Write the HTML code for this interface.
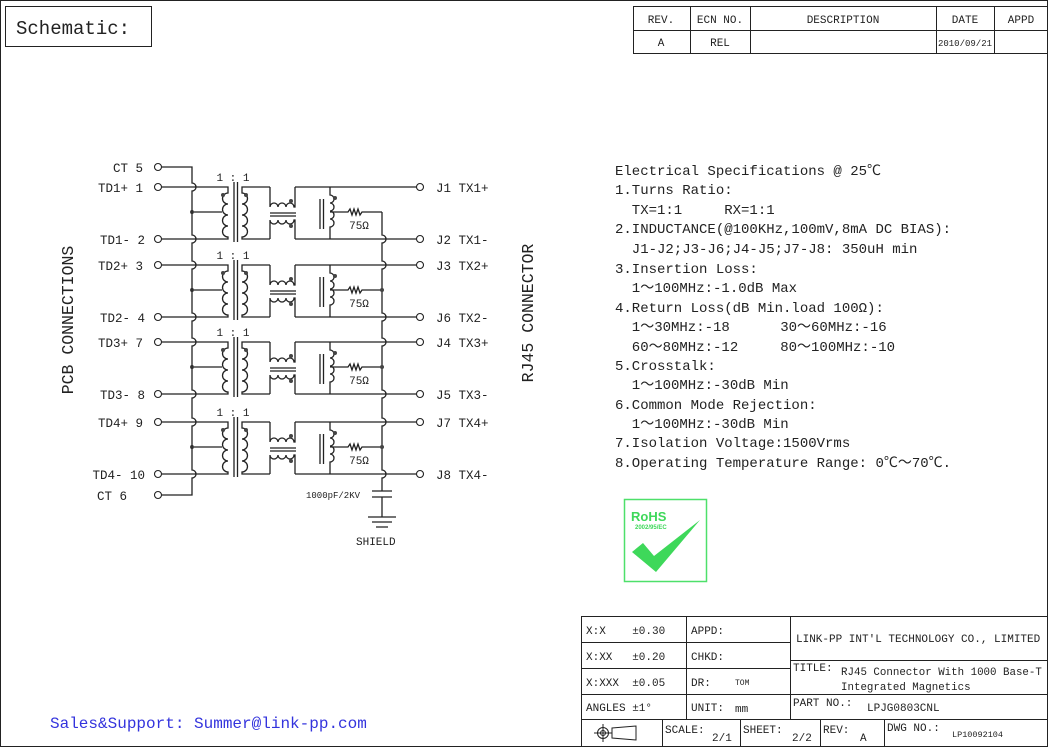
<!DOCTYPE html>
<html><head><meta charset="utf-8"><style>
html,body{margin:0;padding:0;background:#fff}
svg{display:block}
text{font-family:"Liberation Mono","Noto Sans CJK SC",monospace;fill:#222;white-space:pre}
.m{font-family:"Liberation Mono","Noto Sans CJK SC",monospace;font-size:14px;fill:#222}
</style></head><body>
<svg width="1048" height="747" viewBox="0 0 1048 747" xmlns="http://www.w3.org/2000/svg" xml:space="preserve">
<defs>
<g id="ch" fill="none" stroke="#222" stroke-width="1.3">
 <path d="M162,0 H228 V6 a5.5,5.5 0 0 0 0,11 a5.5,5.5 0 0 0 0,11 a5.5,5.5 0 0 0 0,11 a5.5,5.5 0 0 0 0,11 V52 H162"/>
 <path d="M192,25 H222"/>
 <path d="M234,-5 V55 M237.5,-5 V55"/>
 <path d="M270,0 H242 V6 a5.5,5.5 0 0 1 0,11 a5.5,5.5 0 0 1 0,11 a5.5,5.5 0 0 1 0,11 a5.5,5.5 0 0 1 0,11 V52 H270"/>
 <path d="M270,0 V20 a4,4 0 0 1 8,0 a4,4 0 0 1 8,0 a4,4 0 0 1 8,0 H295 V0"/>
 <path d="M270,52 V33 a4,4 0 0 0 8,0 a4,4 0 0 0 8,0 a4,4 0 0 0 8,0 H295 V52"/>
 <path d="M270,26 H296 M270,29 H296"/>
 <path d="M295,0 H416 M295,52 H416"/>
 <path d="M330,0 V8 a4,4 0 0 1 0,8 a4,4 0 0 1 0,8 a4,4 0 0 1 0,8 a4,4 0 0 1 0,8 V52"/>
 <path d="M330,25 H348 l2,-3 l2,6 l2,-6 l2,6 l2,-6 l2,6 l2,-3 H382"/>
 <path d="M320,12 V42 M323.5,12 V42"/>
</g>
<g id="dots" fill="#444">
 <circle cx="223" cy="8" r="2"/><circle cx="246" cy="8" r="2"/>
 <circle cx="291" cy="14" r="2"/><circle cx="291" cy="39" r="2"/>
 <circle cx="335" cy="11" r="2"/><circle cx="192" cy="25" r="2"/>
</g>
</defs>
<rect x="0.5" y="0.5" width="1047" height="746" fill="none" stroke="#222"/>
<rect x="5.5" y="6.5" width="146" height="40" fill="none" stroke="#222"/>
<text x="16" y="34" style="font-size:19px">Schematic:</text>
<g fill="none" stroke="#222" stroke-width="1">
<path d="M633.5,6.5 H1048 M633.5,30.5 H1048 M633.5,53.5 H1048 M633.5,6 V54 M690.5,6 V54 M750.5,6 V54 M936.5,6 V54 M994.5,6 V54"/>
</g>
<g style="font-size:11px" text-anchor="middle">
<text x="661" y="23">REV.</text><text x="720" y="23">ECN NO.</text><text x="843" y="23">DESCRIPTION</text><text x="965" y="23">DATE</text><text x="1021" y="23">APPD</text>
<text x="661" y="46">A</text><text x="720" y="46">REL</text><text x="965" y="46" style="font-size:9px">2010/09/21</text>
</g>

<use href="#ch" y="187"/><use href="#dots" y="187"/>
<use href="#ch" y="265"/><use href="#dots" y="265"/>
<use href="#ch" y="342"/><use href="#dots" y="342"/>
<use href="#ch" y="422"/><use href="#dots" y="422"/>
<g fill="none" stroke="#222" stroke-width="1.3">
 <path d="M162,167 H192 V183 a4,4 0 0 1 0,8 V235 a4,4 0 0 1 0,8 V261 a4,4 0 0 1 0,8 V313 a4,4 0 0 1 0,8 V338 a4,4 0 0 1 0,8 V390 a4,4 0 0 1 0,8 V418 a4,4 0 0 1 0,8 V470 a4,4 0 0 1 0,8 V495 H162"/>
 <path d="M382,212 V235 a4,4 0 0 1 0,8 V261 a4,4 0 0 1 0,8 V313 a4,4 0 0 1 0,8 V338 a4,4 0 0 1 0,8 V390 a4,4 0 0 1 0,8 V418 a4,4 0 0 1 0,8 V470 a4,4 0 0 1 0,8 V491"/>
 <path d="M372,491 H392 M372,497 H392 M382,497 V517 M368,517 H396 M372,522 H392 M376,527 H388"/>
</g>
<g fill="#444"><circle cx="382" cy="290" r="2"/><circle cx="382" cy="367" r="2"/><circle cx="382" cy="447" r="2"/></g>
<g fill="#fff" stroke="#222" stroke-width="1.1">
 <circle cx="158" cy="167" r="3.5"/><circle cx="158" cy="187" r="3.5"/><circle cx="158" cy="239" r="3.5"/><circle cx="158" cy="265" r="3.5"/><circle cx="158" cy="317" r="3.5"/><circle cx="158" cy="342" r="3.5"/><circle cx="158" cy="394" r="3.5"/><circle cx="158" cy="422" r="3.5"/><circle cx="158" cy="474" r="3.5"/><circle cx="158" cy="495" r="3.5"/>
 <circle cx="420" cy="187" r="3.5"/><circle cx="420" cy="239" r="3.5"/><circle cx="420" cy="265" r="3.5"/><circle cx="420" cy="317" r="3.5"/><circle cx="420" cy="342" r="3.5"/><circle cx="420" cy="394" r="3.5"/><circle cx="420" cy="422" r="3.5"/><circle cx="420" cy="474" r="3.5"/>
</g>
<g style="font-size:12.5px" text-anchor="end">
<text x="143" y="172">CT 5</text><text x="143" y="192">TD1+ 1</text><text x="145" y="244">TD1- 2</text><text x="143" y="270">TD2+ 3</text><text x="145" y="322">TD2- 4</text><text x="143" y="347">TD3+ 7</text><text x="145" y="399">TD3- 8</text><text x="143" y="427">TD4+ 9</text><text x="145" y="479">TD4- 10</text><text x="127" y="500">CT 6</text>
</g>
<g style="font-size:12.5px">
<text x="436" y="192">J1 TX1+</text><text x="436" y="244">J2 TX1-</text><text x="436" y="270">J3 TX2+</text><text x="436" y="322">J6 TX2-</text><text x="436" y="347">J4 TX3+</text><text x="436" y="399">J5 TX3-</text><text x="436" y="427">J7 TX4+</text><text x="436" y="479">J8 TX4-</text>
</g>
<g style="font-size:11px" text-anchor="middle">
<text x="233" y="181">1 : 1</text><text x="233" y="259">1 : 1</text><text x="233" y="336">1 : 1</text><text x="233" y="416">1 : 1</text>
<text x="359" y="229">75Ω</text><text x="359" y="307">75Ω</text><text x="359" y="384">75Ω</text><text x="359" y="464">75Ω</text>
</g>
<text x="306" y="498" style="font-size:9px">1000pF/2KV</text>
<text x="356" y="545" style="font-size:11px">SHIELD</text>
<text transform="translate(73,320) rotate(-90)" text-anchor="middle" style="font-size:16.5px">PCB CONNECTIONS</text>
<text transform="translate(533,313) rotate(-90)" text-anchor="middle" style="font-size:16.5px">RJ45 CONNECTOR</text>

<text class="m" x="615" y="175">Electrical Specifications @ 25℃</text>
<text class="m" x="615" y="194">1.Turns Ratio:</text>
<text class="m" x="615" y="214">  TX=1:1     RX=1:1</text>
<text class="m" x="615" y="233">2.INDUCTANCE(@100KHz,100mV,8mA DC BIAS):</text>
<text class="m" x="615" y="253">  J1-J2;J3-J6;J4-J5;J7-J8: 350uH min</text>
<text class="m" x="615" y="273">3.Insertion Loss:</text>
<text class="m" x="615" y="292">  1～100MHz:-1.0dB Max</text>
<text class="m" x="615" y="312">4.Return Loss(dB Min.load 100Ω):</text>
<text class="m" x="615" y="331">  1～30MHz:-18      30～60MHz:-16</text>
<text class="m" x="615" y="351">  60～80MHz:-12     80～100MHz:-10</text>
<text class="m" x="615" y="370">5.Crosstalk:</text>
<text class="m" x="615" y="389">  1～100MHz:-30dB Min</text>
<text class="m" x="615" y="409">6.Common Mode Rejection:</text>
<text class="m" x="615" y="428">  1～100MHz:-30dB Min</text>
<text class="m" x="615" y="447">7.Isolation Voltage:1500Vrms</text>
<text class="m" x="615" y="467">8.Operating Temperature Range: 0℃～70℃.</text>

<rect x="624.5" y="499.5" width="82" height="82" fill="#fff" stroke="#4ee06a" stroke-width="1.5"/>
<text x="631" y="521" style="font-family:'Liberation Sans',sans-serif;font-size:13px;font-weight:bold;fill:#3ed85a">RoHS</text>
<text x="635" y="529" style="font-family:'Liberation Sans',sans-serif;font-size:6px;font-weight:bold;fill:#3ed85a">2002/95/EC</text>
<path d="M632,552 L643,543 L654,556 L700,520 L656,572 Z" fill="#3ed85a"/>

<g fill="none" stroke="#222" stroke-width="1">
<path d="M581.5,616.5 H1048 M581.5,616 V747 M686.5,616 V719 M790.5,616 V719 M581,642.5 H790 M581,668.5 H790 M790,660.5 H1048 M581,694.5 H1048 M581,719.5 H1048 M662.5,719 V747 M740.5,719 V747 M820.5,719 V747 M884.5,719 V747"/>
<circle cx="603" cy="733" r="5.5"/><circle cx="603" cy="733" r="2.5"/><path d="M594,733 H612 M603,724 V742 M612,728 L636,726 V740 L612,738 Z"/>
</g>
<g style="font-size:11px">
<text x="586" y="634">X:X    ±0.30</text><text x="586" y="660">X:XX   ±0.20</text><text x="586" y="686">X:XXX  ±0.05</text><text x="586" y="711">ANGLES ±1°</text>
<text x="691" y="634">APPD:</text><text x="691" y="660">CHKD:</text><text x="691" y="686">DR:</text><text x="735" y="685" style="font-size:8px">TOM</text>
<text x="691" y="711">UNIT:</text><text x="735" y="712">mm</text>
<text x="796" y="642">LINK-PP INT'L TECHNOLOGY CO., LIMITED</text>
<text x="793" y="671">TITLE:</text>
<text x="841" y="675" style="font-size:10.8px">RJ45 Connector With 1000 Base-T</text>
<text x="841" y="690" style="font-size:10.8px">Integrated Magnetics</text>
<text x="793" y="706">PART NO.:</text><text x="867" y="711">LPJG0803CNL</text>
<text x="665" y="733">SCALE:</text><text x="712" y="741">2/1</text>
<text x="743" y="733">SHEET:</text><text x="792" y="741">2/2</text>
<text x="823" y="733">REV:</text><text x="860" y="741">A</text>
<text x="887" y="731">DWG NO.:</text><text x="952" y="737" style="font-size:8.5px">LP10092104</text>
</g>
<text x="50" y="728" style="font-size:16px;fill:#3333dd">Sales&amp;Support: Summer@link-pp.com</text>
</svg>
</body></html>
